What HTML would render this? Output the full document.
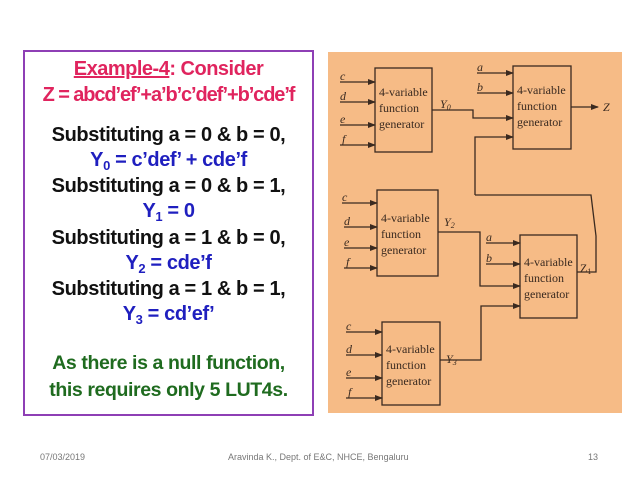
<!DOCTYPE html>
<html><head><meta charset="utf-8"><style>
body{margin:0;width:638px;height:478px;background:#fff;position:relative;overflow:hidden;font-family:"Liberation Sans",sans-serif}
#box{position:absolute;left:23px;top:50px;width:287px;height:362px;border:2px solid #8e3fb5}
.l{position:absolute;left:23px;width:291px;text-align:center;font-weight:bold;white-space:nowrap}
.k{color:#111;font-size:20px;letter-spacing:-0.4px}
.b{color:#1f1fbf;font-size:20px;letter-spacing:-0.4px}
.r{color:#e0245e;font-size:20px;letter-spacing:-0.5px}
.g{color:#1f6b1f;font-size:19.5px;letter-spacing:-0.4px}
sub{font-size:13px;vertical-align:-4px;line-height:0}
.f{position:absolute;top:452px;font-size:9px;color:#777}
</style></head><body>
<div id="box"></div>
<div class="l r" style="top:58px"><u>Example-4</u>: Consider</div>
<div class="l r" style="top:84px;letter-spacing:-1.1px">Z = abcd’ef’+a’b’c’def’+b’cde’f</div>
<div class="l k" style="top:124px">Substituting a = 0 &amp; b = 0,</div>
<div class="l b" style="top:149px">Y<sub>0</sub> = c’def’ + cde’f</div>
<div class="l k" style="top:175px">Substituting a = 0 &amp; b = 1,</div>
<div class="l b" style="top:200px">Y<sub>1</sub> = 0</div>
<div class="l k" style="top:227px">Substituting a = 1 &amp; b = 0,</div>
<div class="l b" style="top:252px">Y<sub>2</sub> = cde’f</div>
<div class="l k" style="top:278px">Substituting a = 1 &amp; b = 1,</div>
<div class="l b" style="top:303px">Y<sub>3</sub> = cd’ef’</div>
<div class="l g" style="top:352px">As there is a null function,</div>
<div class="l g" style="top:379px">this requires only 5 LUT4s.</div>
<svg style="position:absolute;left:0;top:0" width="638" height="478">
<defs><marker id="a" markerWidth="8" markerHeight="6" refX="7" refY="3" orient="auto" markerUnits="userSpaceOnUse"><path d="M0,0L8,3L0,6z" fill="#3a2a20"/></marker></defs>
<rect x="328" y="52" width="294" height="361" fill="#f6bb86"/>
<g stroke="#3a2a20" stroke-width="1.3" fill="none">
<rect x="375" y="68" width="57" height="84"/>
<rect x="513" y="66" width="58" height="83"/>
<rect x="377" y="190" width="61" height="86"/>
<rect x="520" y="235" width="57" height="83"/>
<rect x="382" y="322" width="58" height="83"/>
<g marker-end="url(#a)">
<path d="M340,82H375"/><path d="M340,102H375"/><path d="M340,125H375"/><path d="M340,145H375"/>
<path d="M477,73H513"/><path d="M477,93H513"/><path d="M432,110H473V118H513"/><path d="M475,195V137H513" />
<path d="M342,203H377"/><path d="M344,227H377"/><path d="M344,248H377"/><path d="M344,268H377"/>
<path d="M486,243H520"/><path d="M486,264H520"/><path d="M438,232H480V286H520"/><path d="M440,360H481V306H520"/>
<path d="M346,332H382"/><path d="M346,355H382"/><path d="M346,378H382"/><path d="M346,398H382"/>
<path d="M571,107H598"/>
</g>
<path d="M577,272H596V236L591,195H475"/>
</g>
<g font-family="Liberation Serif,serif" font-size="12" fill="#3a2a20">
<text x="379" y="96">4-variable</text><text x="379" y="112">function</text><text x="379" y="128">generator</text>
<text x="517" y="94">4-variable</text><text x="517" y="110">function</text><text x="517" y="126">generator</text>
<text x="381" y="222">4-variable</text><text x="381" y="238">function</text><text x="381" y="254">generator</text>
<text x="524" y="266">4-variable</text><text x="524" y="282">function</text><text x="524" y="298">generator</text>
<text x="386" y="353">4-variable</text><text x="386" y="369">function</text><text x="386" y="385">generator</text>
<g font-style="italic">
<text x="340" y="80">c</text><text x="340" y="100">d</text><text x="340" y="123">e</text><text x="342" y="143">f</text>
<text x="477" y="71">a</text><text x="477" y="91">b</text>
<text x="342" y="201">c</text><text x="344" y="225">d</text><text x="344" y="246">e</text><text x="346" y="266">f</text>
<text x="486" y="241">a</text><text x="486" y="262">b</text>
<text x="346" y="330">c</text><text x="346" y="353">d</text><text x="346" y="376">e</text><text x="348" y="396">f</text>
<text x="440" y="108">Y<tspan font-size="8" dy="2">0</tspan></text>
<text x="444" y="226">Y<tspan font-size="8" dy="2">2</tspan></text>
<text x="446" y="363">Y<tspan font-size="8" dy="2">3</tspan></text>
<text x="603" y="111">Z</text>
</g>
<text x="580" y="272">Z<tspan font-size="8" dy="2">1</tspan></text>
</g>
</svg>
<div class="f" style="left:40px">07/03/2019</div>
<div class="f" style="left:228px">Aravinda K., Dept. of E&amp;C, NHCE, Bengaluru</div>
<div class="f" style="left:588px">13</div>
</body></html>
